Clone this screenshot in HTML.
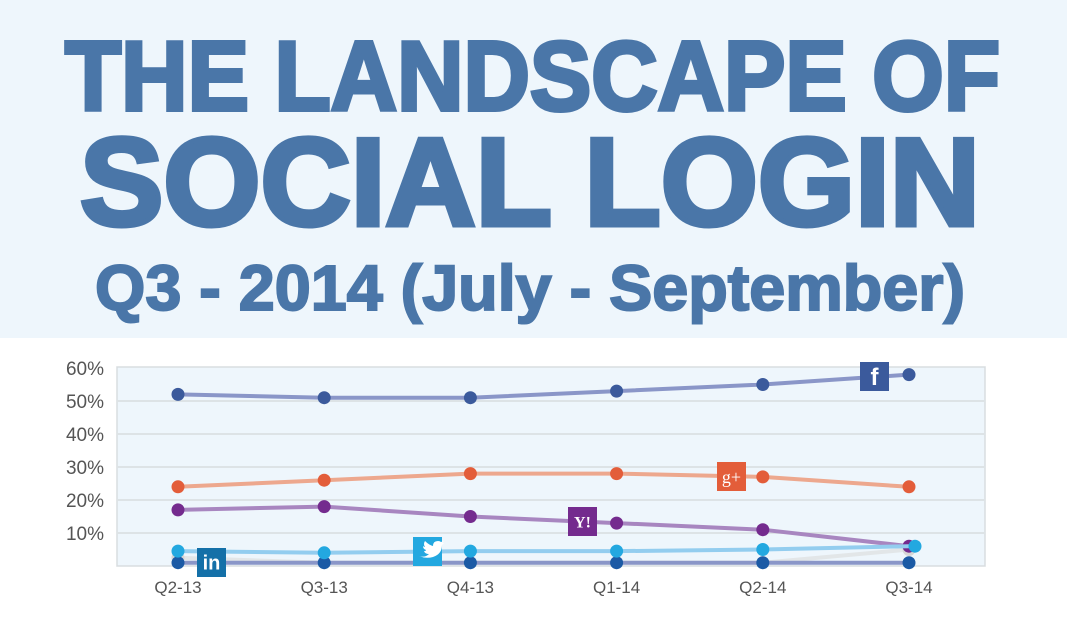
<!DOCTYPE html>
<html><head><meta charset="utf-8"><style>
html,body{margin:0;padding:0;background:#fff;}
svg{display:block;font-family:"Liberation Sans",sans-serif;}
</style></head><body>
<svg id="chart" width="1067" height="637" viewBox="0 0 1067 637">
<rect x="0" y="0" width="1067" height="338" fill="#eef6fc"/>
<text x="65" y="110" textLength="935" lengthAdjust="spacingAndGlyphs" font-size="98" font-weight="900" fill="#4a76a8" stroke="#4a76a8" stroke-width="4">THE LANDSCAPE OF</text>
<text x="80" y="225" textLength="900" lengthAdjust="spacingAndGlyphs" font-size="124" font-weight="900" fill="#4a76a8" stroke="#4a76a8" stroke-width="5">SOCIAL LOGIN</text>
<text x="95" y="310" textLength="870" lengthAdjust="spacingAndGlyphs" font-size="64" font-weight="900" fill="#4a76a8" stroke="#4a76a8" stroke-width="2">Q3 - 2014 (July - September)</text>
<rect x="117" y="367" width="868" height="199" fill="#eef6fc" stroke="#d8dde0" stroke-width="1.5"/>
<g id="grid"></g><g id="ylab"></g><g id="xlab"></g><g id="series"></g><g id="icons"></g>
</svg>
<script>
const categories=["Q2-13","Q3-13","Q4-13","Q1-14","Q2-14","Q3-14"];
const yTicks=[10,20,30,40,50,60];
const facebook=[52,51,51,53,55,58];
const googlePlus=[24,26,28,28,27,24];
const yahoo=[17,18,15,13,11,6];
const twitter=[4.5,4,4.5,4.5,5,6];
const other=[2.5,1,1,1,1,5];
const linkedin=[1,1,1,1,1,1];
const NS="http://www.w3.org/2000/svg";
const x=i=>178+i*146.2;
const y=v=>566-v*3.3;
function mk(tag,attrs,parent){const e=document.createElementNS(NS,tag);for(const k in attrs)e.setAttribute(k,attrs[k]);document.getElementById(parent).appendChild(e);return e;}
yTicks.forEach(t=>{
 if(t<60){const g=mk('line',{x1:117,x2:985,y1:y(t),y2:y(t),stroke:'#dde3e6','stroke-width':2},'grid');
 
 }
 const l=mk('text',{x:104,y:y(t)+7,'text-anchor':'end','font-size':19,fill:'#555'},'ylab');
 l.textContent=t+'%';
 
 
});
categories.forEach((c,i)=>{
 const l=mk('text',{x:x(i),y:593,'text-anchor':'middle','font-size':17,fill:'#555'},'xlab');
 l.textContent=c;
 
 
});
const series=[
 ['other',other,'#e2e6e8','#d6d6d6'],
 ['linkedin',linkedin,'#8a96c8','#1b5aa5'],
 ['yahoo',yahoo,'#a886c0','#742b8e'],
 ['twitter',twitter,'#93cdef','#23a8e0'],
 ['google-plus',googlePlus,'#eda88e','#e35d3a'],
 ['facebook',facebook,'#8a96c8','#3b5a9c']];
series.forEach(([n,d,lc,pc])=>{
 const p=mk('polyline',{points:d.map((v,i)=>x(i)+','+y(v)).join(' '),fill:'none',stroke:lc,'stroke-width':4},'series');
 
 
 d.forEach((v,i)=>{
  const c=mk('circle',{cx:x(i)+(n==='twitter'&&i===d.length-1?6:0),cy:y(v),r:6.5,fill:pc},'series');
  
  
 });
});
const icons=[
 ['facebook-icon',860,362,'#3b5a9c','f',24,'bold'],
 ['google-plus-icon',717,462,'#e35d3a','g+',18,'normal'],
 ['yahoo-icon',568,507,'#742b8e','Y!',16,'bold'],
 ['twitter-icon',413,537,'#23a8e0','',14,'normal'],
 ['linkedin-icon',197,548,'#1470a8','in',20,'bold']];
icons.forEach(([n,ix,iy,col,t,fs,fw])=>{
 const r=mk('rect',{x:ix,y:iy,width:29,height:29,fill:col},'icons');
 
 
 if(t){
 const tx=mk('text',{x:ix+14.5,y:iy+14.5+fs*0.36,'text-anchor':'middle','font-size':fs,'font-weight':fw,fill:'#fff','font-family':t==='g+'||t==='Y!'?'Liberation Serif, serif':'Liberation Sans, sans-serif'},'icons');
 tx.textContent=t;
 
 
 } else {
 const b=mk('path',{d:`M${ix+6} ${iy+19} q6 2 10 -2 q-4 0 -5 -3 q2 0 2 -1 q-3 -1 -3 -4 q1 1 2 1 q-2 -3 0 -6 q4 4 8 5 q0 -5 5 -5 q2 0 3 1 l3 -1 l-2 2 l2 0 l-2 2 q0 9 -9 12 q-7 2 -14 -1z`,fill:'#fff'},'icons');
 
 
 }
});
</script>
</body></html>
